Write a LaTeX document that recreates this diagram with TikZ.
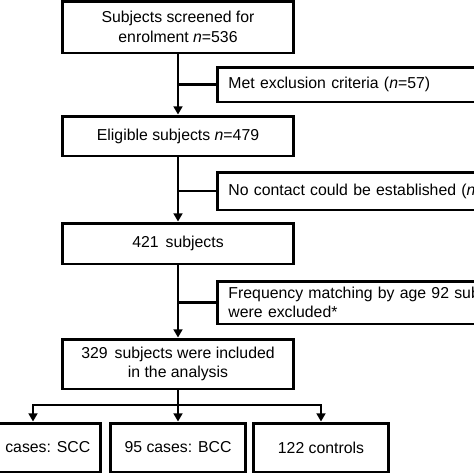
\documentclass[tikz,border=0pt]{standalone}
\usepackage{fontspec}
\setmainfont{Liberation Sans}
\usepackage{tikz}
\usetikzlibrary{arrows.meta,positioning}

\begin{document}
\begin{tikzpicture}[x=0.02cm, y=-0.02cm, line width=1.7pt,
    font=\fontsize{9}{11}\selectfont,
    mainbox/.style={rectangle, draw, align=center, minimum width=4.64cm},
    sidebox/.style={rectangle, draw, anchor=west, align=left, text width=6.6cm, inner xsep=0.22cm},
    groupbox/.style={rectangle, draw, minimum width=2.72cm, minimum height=0.98cm},
    flow/.style={-{Triangle[length=4.6pt,width=5pt]}}
]
\useasboundingbox (0,0) rectangle (474,474);
\clip (0,0) rectangle (474,474);

% Main boxes
\node[mainbox, minimum height=1.04cm] (screen) at (178,27) {Subjects screened for\\enrolment \textit{n}=536};
\node[mainbox, minimum height=0.8cm] (elig) at (178,136) {Eligible subjects \textit{n}=479};
\node[mainbox, minimum height=0.82cm] (contact) at (178,243.5) {421 \,subjects};
\node[mainbox, minimum height=1.0cm] (incl) at (178,364) {329 \,subjects were included\\in the analysis};

% Exclusions
\node[sidebox, minimum height=0.7cm] (excl1) at (216,84.5) {Met exclusion criteria (\textit{n}=57)};
\node[sidebox, minimum height=0.76cm] (excl2) at (216,191) {No contact could be established (\textit{n}=58)};
\node[sidebox, minimum height=0.86cm] (excl3) at (216,302.5) {Frequency matching by age 92 subjects\\were excluded*};

% Groups
\node[groupbox] (scc) at (33,447.5) {112 cases: SCC};
\node[groupbox] (bcc) at (178,447.5) {95 cases: BCC};
\node[groupbox] (ctrl) at (321,447.5) {122 controls};

% Flow
\draw[flow] (screen) -- (elig);
\draw[flow] (elig) -- (contact);
\draw[flow] (contact) -- (incl);
\draw (excl1.west) -- (screen.south |- excl1.west);
\draw (excl2.west) -- (elig.south |- excl2.west);
\draw (excl3.west) -- (contact.south |- excl3.west);

% Split
\coordinate (split) at (178,405);
\draw (incl) -- (split);
\draw[flow] (split) -| (scc.north);
\draw[flow] (split) -- (bcc);
\draw[flow] (split) -| (ctrl.north);

\end{tikzpicture}
\end{document}
